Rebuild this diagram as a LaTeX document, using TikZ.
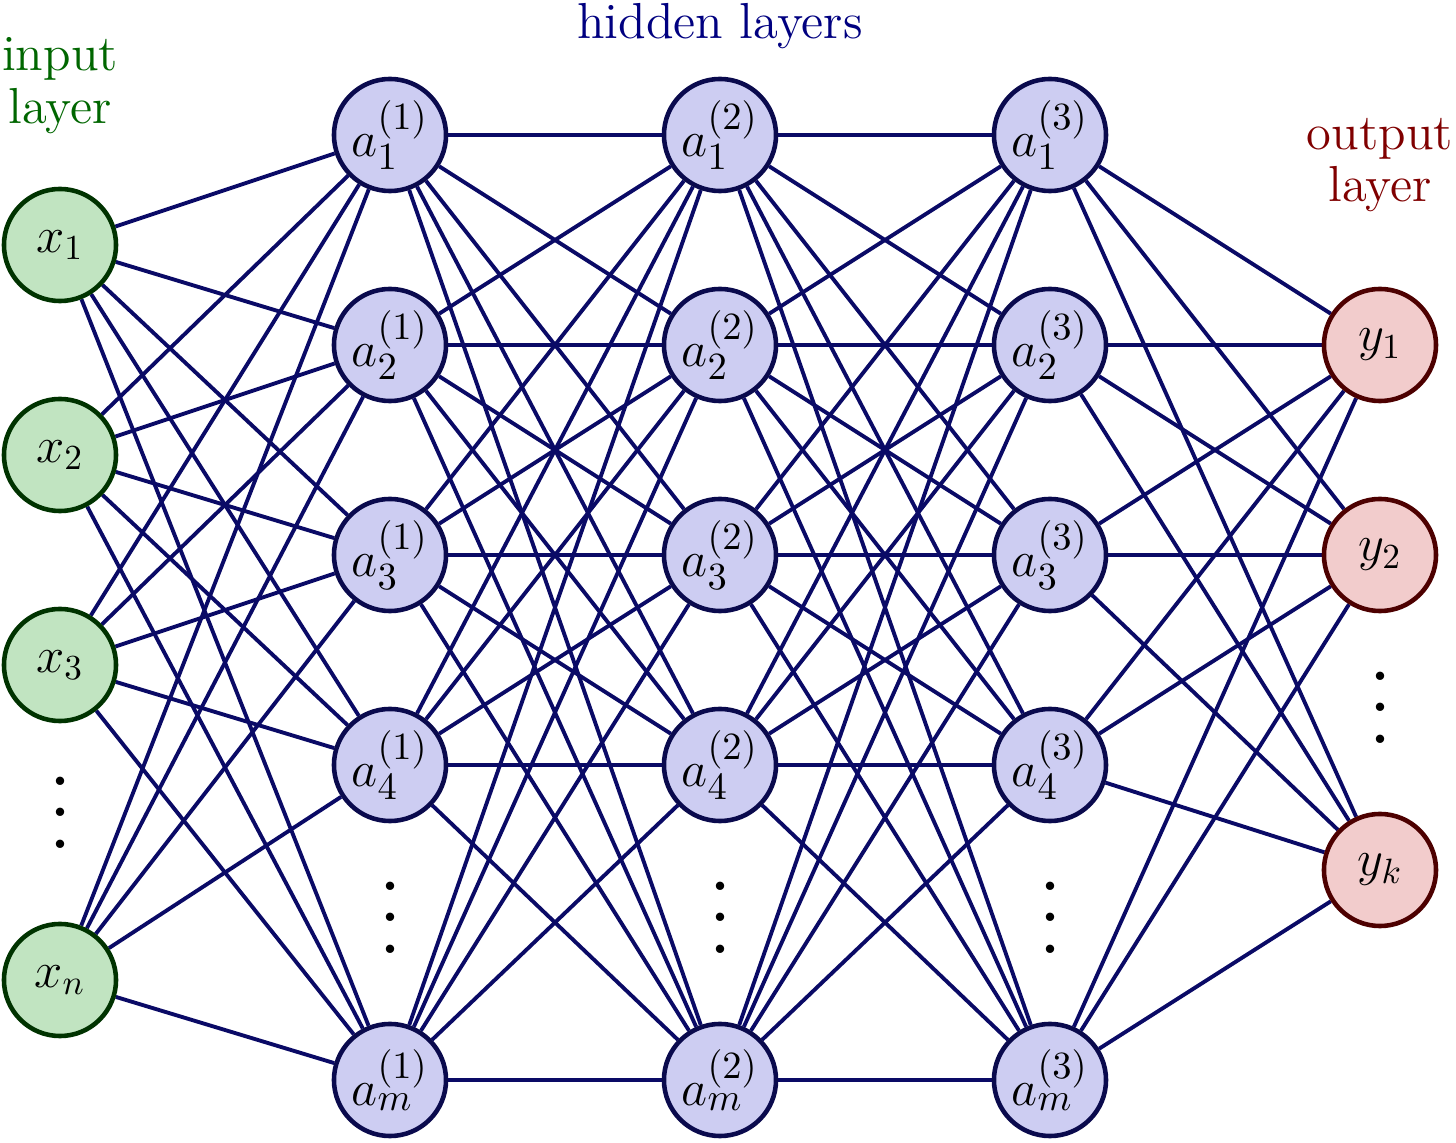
\documentclass[tikz,border=0pt]{standalone}
\usetikzlibrary{backgrounds}
\definecolor{inFill}{RGB}{193,228,193}
\definecolor{inDraw}{RGB}{0,51,0}
\definecolor{hidFill}{RGB}{205,205,242}
\definecolor{hidDraw}{RGB}{10,10,77}
\definecolor{outFill}{RGB}{242,204,204}
\definecolor{outDraw}{RGB}{77,0,0}
\definecolor{connCol}{RGB}{10,10,102}
\definecolor{inText}{RGB}{0,102,0}
\definecolor{hidText}{RGB}{0,0,128}
\definecolor{outText}{RGB}{128,0,0}
\begin{document}
\begin{tikzpicture}[x=0.01cm,y=-0.01cm,
  neuron/.style={circle,minimum size=1.12cm,inner sep=0pt,line width=1.3pt,font=\Large},
  inneuron/.style={neuron,draw=inDraw,fill=inFill},
  hidneuron/.style={neuron,draw=hidDraw,fill=hidFill,font=\fontsize{15.8}{18}\selectfont},
  outneuron/.style={neuron,draw=outDraw,fill=outFill},
  conn/.style={draw=connCol,line width=1.1pt},
  vdotsnode/.style={scale=2.25,inner sep=0pt},
  layerlabel/.style={align=center,inner sep=0pt,font=\fontsize{14.4}{15}\selectfont}
  ]
\useasboundingbox (0,0) rectangle (1456,1143);
% input layer
\foreach \i/\y/\t in {1/245/x_1,2/455/x_2,3/665/x_3,4/980/x_n}
  \node[inneuron] (x\i) at (60,\y) {$\t$};
% hidden layers
\foreach \l/\xx in {1/390,2/720,3/1050}
  \foreach \i/\y/\s in {1/135/1,2/345/2,3/555/3,4/765/4,5/1080/m}
    \node[hidneuron] (h\l-\i) at (\xx,\y) {$a_{\s}^{(\l)}$};
% output layer
\foreach \i/\y/\t in {1/345/y_1,2/555/y_2,3/870/y_k}
  \node[outneuron] (y\i) at (1380,\y) {$\t$};
% dots
\node[vdotsnode] (dx) at (60,789) {$\vdots$};
\node[vdotsnode] (dh1) at (390,894) {$\vdots$};
\node[vdotsnode] (dh2) at (720,894) {$\vdots$};
\node[vdotsnode] (dh3) at (1050,894) {$\vdots$};
\node[vdotsnode] (dy) at (1380,684) {$\vdots$};
% labels
\node[layerlabel,text=inText] (lin) at (60,86) {input\\layer};
\node[layerlabel,text=hidText] (lhid) at (720,26) {hidden layers};
\node[layerlabel,text=outText] (lout) at (1380,165) {output\\layer};
% connections
\begin{pgfonlayer}{background}
  \foreach \i in {1,...,4}
    \foreach \j in {1,...,5}
      \draw[conn] (x\i) -- (h1-\j);
  \foreach \l/\m in {1/2,2/3}
    \foreach \i in {1,...,5}
      \foreach \j in {1,...,5}
        \draw[conn] (h\l-\i) -- (h\m-\j);
  \foreach \i in {1,...,5}
    \foreach \j in {1,...,3}
      \draw[conn] (h3-\i) -- (y\j);
\end{pgfonlayer}
\end{tikzpicture}
\end{document}
